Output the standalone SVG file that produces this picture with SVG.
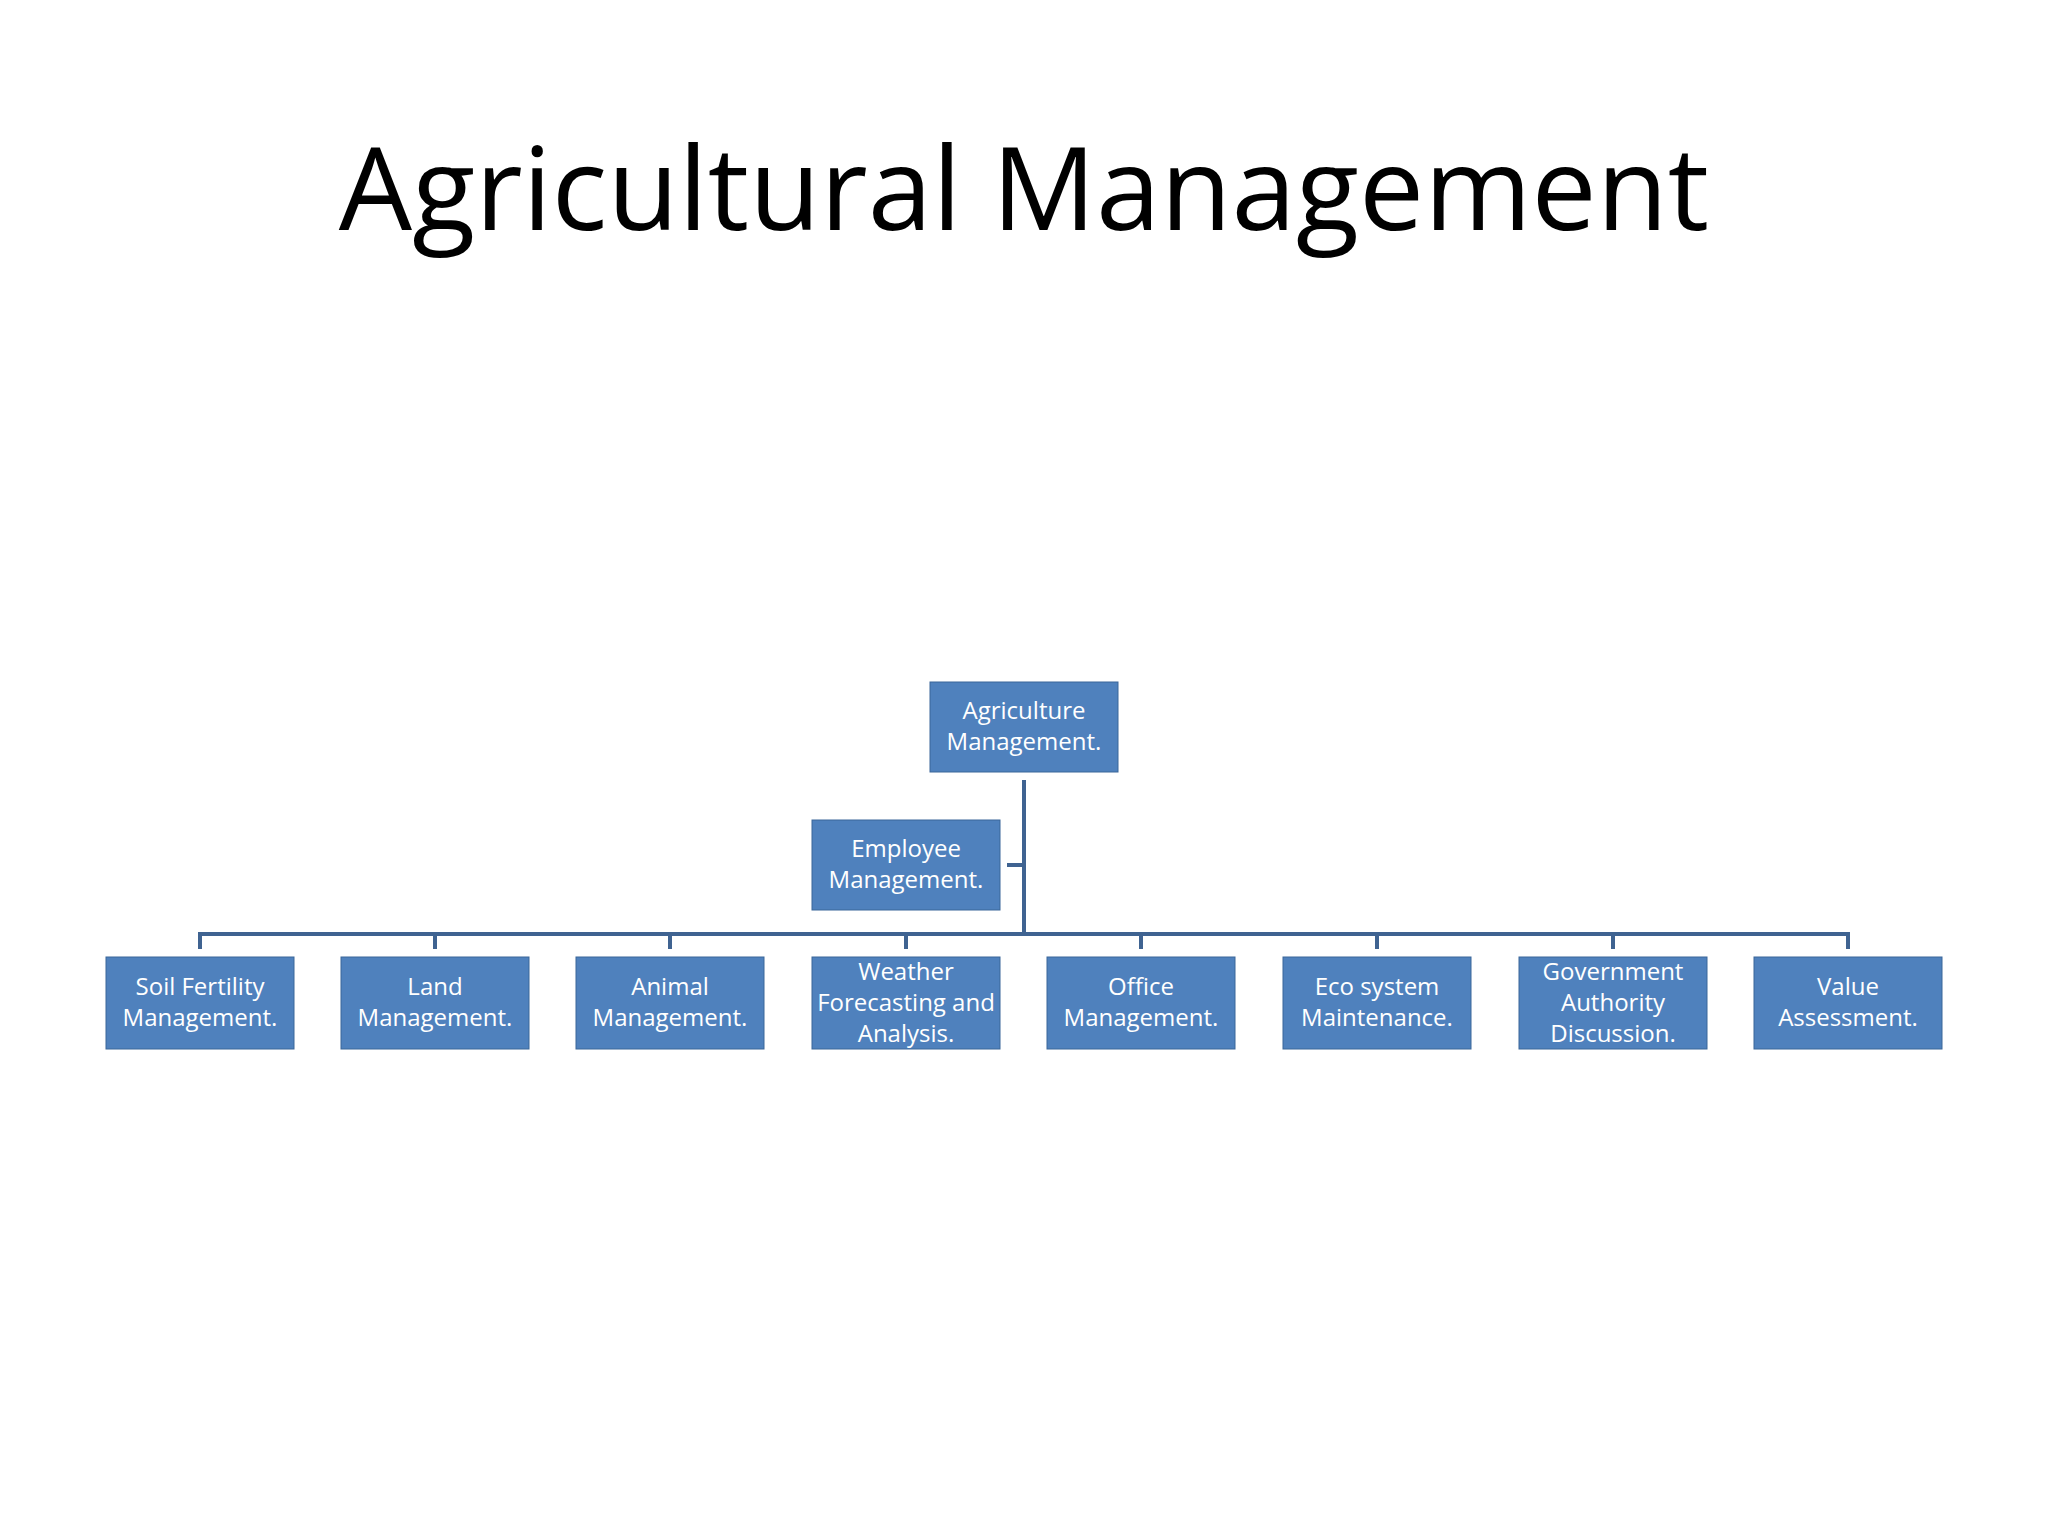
<svg xmlns="http://www.w3.org/2000/svg" width="2048" height="1536" viewBox="0 0 2048 1536">
<style>
.b{fill:#4f81bd;stroke:#3a6699;stroke-width:1}
.t{font-family:"Open Sans","Liberation Sans",sans-serif;font-size:24px;fill:#fff;text-anchor:middle}
.c{stroke:#3f6391;stroke-width:4;fill:none}
</style>
<rect width="2048" height="1536" fill="#fff"/>
<text x="1024" y="230" font-family="Open Sans, Liberation Sans, sans-serif" font-size="116" text-anchor="middle" fill="#000">Agricultural Management</text>
<g id="connectors" class="c">
<path d="M1024 780V934M1007 865H1024M200 949V934H1848V949M435 934V949M670 934V949M906 934V949M1141 934V949M1377 934V949M1613 934V949"/>
</g>
<g id="root"><rect class="b" x="930" y="682" width="188" height="90"/><text class="t" x="1024" y="719">Agriculture</text><text class="t" x="1024" y="750">Management.</text></g>
<g id="employee"><rect class="b" x="812" y="820" width="188" height="90"/><text class="t" x="906" y="857">Employee</text><text class="t" x="906" y="888">Management.</text></g>
<g id="n1"><rect class="b" x="106" y="957" width="188" height="92"/><text class="t" x="200" y="995">Soil Fertility</text><text class="t" x="200" y="1026">Management.</text></g>
<g id="n2"><rect class="b" x="341" y="957" width="188" height="92"/><text class="t" x="435" y="995">Land</text><text class="t" x="435" y="1026">Management.</text></g>
<g id="n3"><rect class="b" x="576" y="957" width="188" height="92"/><text class="t" x="670" y="995">Animal</text><text class="t" x="670" y="1026">Management.</text></g>
<g id="n4"><rect class="b" x="812" y="957" width="188" height="92"/><text class="t" x="906" y="980">Weather</text><text class="t" x="906" y="1011">Forecasting and</text><text class="t" x="906" y="1042">Analysis.</text></g>
<g id="n5"><rect class="b" x="1047" y="957" width="188" height="92"/><text class="t" x="1141" y="995">Office</text><text class="t" x="1141" y="1026">Management.</text></g>
<g id="n6"><rect class="b" x="1283" y="957" width="188" height="92"/><text class="t" x="1377" y="995">Eco system</text><text class="t" x="1377" y="1026">Maintenance.</text></g>
<g id="n7"><rect class="b" x="1519" y="957" width="188" height="92"/><text class="t" x="1613" y="980">Government</text><text class="t" x="1613" y="1011">Authority</text><text class="t" x="1613" y="1042">Discussion.</text></g>
<g id="n8"><rect class="b" x="1754" y="957" width="188" height="92"/><text class="t" x="1848" y="995">Value</text><text class="t" x="1848" y="1026">Assessment.</text></g>
</svg>
